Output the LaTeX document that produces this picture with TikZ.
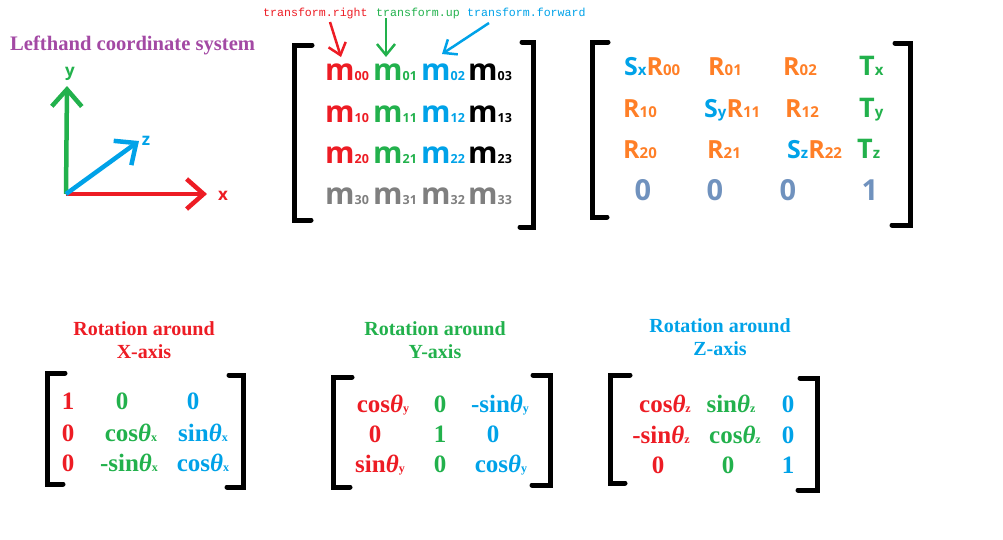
\documentclass[tikz,border=0pt]{standalone}
\usepackage{fontspec}
\setmainfont{Liberation Serif}
\newfontfamily\osans{Open Sans}
\newfontfamily\monof{Liberation Mono}
\usetikzlibrary{arrows.meta}
\definecolor{cred}{HTML}{ED1C24}
\definecolor{cgreen}{HTML}{22B14C}
\definecolor{cblue}{HTML}{00A2E8}
\definecolor{corange}{HTML}{FF7F27}
\definecolor{cpurple}{HTML}{A349A4}
\definecolor{cgray}{HTML}{7F7F7F}
\definecolor{csteel}{HTML}{7092BE}
\newcommand\fsz[1]{\fontsize{#1}{#1}\selectfont}
\newcommand\mcell[1]{{\fsz{30}m}{\fsz{12.5}#1}}
\newcommand\rcell[1]{{\fsz{25}R}{\fsz{15}#1}}
\newcommand\scell[1]{{\fsz{25}S}{\fsz{15}#1}}
\newcommand\tcell[1]{{\fsz{27}T}{\fsz{15}#1}}
\newcommand\trig[2]{#1\textit{θ}{\fsz{12}#2}}
\tikzset{
  mtx/.style={font=\osans\bfseries, inner sep=0pt, anchor=base west},
  zero/.style={font=\osans\bfseries\fsz{29}, inner sep=0pt, anchor=base, text=csteel},
  rot/.style={font=\bfseries\fsz{25}, inner sep=0pt, anchor=base},
  rottitle/.style={font=\bfseries\fsz{20}, inner sep=0pt, anchor=base},
  bracket/.style={line width=5pt, line cap=round, line join=miter, draw=black},
  axis/.style={line width=4.5pt, -{Straight Barb[length=17pt, width=30pt]}},
  pointer/.style={line width=2.5pt, -{Straight Barb[length=11pt, width=18pt]}},
  axlabel/.style={font=\osans\bfseries\fsz{17}, inner sep=0pt},
  code/.style={font=\monof\fsz{11.6}, inner sep=0pt, anchor=base west},
}
\begin{document}
\begin{tikzpicture}[x=1pt,y=-1pt]
\useasboundingbox (0,0) rectangle (1003,539);

% title
\node[font=\bfseries\fsz{20.6}, text=cpurple, inner sep=0pt, anchor=base west] (title) at (10,50) {Lefthand coordinate system};

% axes
\coordinate (O) at (66,194);
\coordinate (xe) at (207,194);
\coordinate (ye) at (67,86);
\coordinate (ze) at (139,141);
\draw[axis, cred] (O) -- (xe);
\draw[axis, cgreen] (O) -- (ye);
\draw[axis, cblue] (O) -- (ze);
\node[axlabel, text=cred] (lx) at (223,196) {x};
\node[axlabel, text=cgreen] (ly) at (70,74) {y};
\node[axlabel, text=cblue] (lz) at (146,141) {z};

% code labels
\node[code, text=cred] (cr) at (263,16) {transform.right};
\node[code, text=cgreen] (cu) at (376,16) {transform.up};
\node[code, text=cblue] (cf) at (467,16) {transform.forward};
\coordinate (ra) at (330,22); \coordinate (rb) at (341,57);
\coordinate (ua) at (386,18); \coordinate (ub) at (386,57);
\coordinate (fa) at (489,23); \coordinate (fb) at (442,54);
\draw[pointer, cred] (ra) -- (rb);
\draw[pointer, cgreen] (ua) -- (ub);
\draw[pointer, cblue] (fa) -- (fb);

% matrix m
\draw[bracket] (312,45) -- (294,45) -- (294,220) -- (311,220);
\draw[bracket] (522,42) -- (533,42) -- (533,227) -- (520,227);
\node[mtx, text=cred]   (m00) at (325,80) {\mcell{00}};
\node[mtx, text=cgreen] (m01) at (373,80) {\mcell{01}};
\node[mtx, text=cblue]  (m02) at (421,80) {\mcell{02}};
\node[mtx, text=black]  (m03) at (468,80) {\mcell{03}};
\node[mtx, text=cred]   (m10) at (325,122) {\mcell{10}};
\node[mtx, text=cgreen] (m11) at (373,122) {\mcell{11}};
\node[mtx, text=cblue]  (m12) at (421,122) {\mcell{12}};
\node[mtx, text=black]  (m13) at (468,122) {\mcell{13}};
\node[mtx, text=cred]   (m20) at (325,163) {\mcell{20}};
\node[mtx, text=cgreen] (m21) at (373,163) {\mcell{21}};
\node[mtx, text=cblue]  (m22) at (421,163) {\mcell{22}};
\node[mtx, text=black]  (m23) at (468,163) {\mcell{23}};
\node[mtx, text=cgray]  (m30) at (325,204) {\mcell{30}};
\node[mtx, text=cgray]  (m31) at (373,204) {\mcell{31}};
\node[mtx, text=cgray]  (m32) at (421,204) {\mcell{32}};
\node[mtx, text=cgray]  (m33) at (468,204) {\mcell{33}};

% matrix TRS
\draw[bracket] (608,42) -- (592,42) -- (592,217) -- (607,217);
\draw[bracket] (895,43) -- (910,43) -- (910,225) -- (892,225);
\node[mtx] (a00) at (624,75) {\textcolor{cblue}{\scell{x}}\textcolor{corange}{\rcell{00}}};
\node[mtx, text=corange] (a01) at (708,75) {\rcell{01}};
\node[mtx, text=corange] (a02) at (783,75) {\rcell{02}};
\node[mtx, text=cgreen]  (a03) at (859,75) {\tcell{x}};
\node[mtx, text=corange] (a10) at (623,117) {\rcell{10}};
\node[mtx] (a11) at (704,117) {\textcolor{cblue}{\scell{y}}\textcolor{corange}{\rcell{11}}};
\node[mtx, text=corange] (a12) at (785,117) {\rcell{12}};
\node[mtx, text=cgreen]  (a13) at (859,117) {\tcell{y}};
\node[mtx, text=corange] (a20) at (623,158) {\rcell{20}};
\node[mtx, text=corange] (a21) at (707,158) {\rcell{21}};
\node[mtx] (a22) at (787,158) {\textcolor{cblue}{\scell{z}}\textcolor{corange}{\rcell{22}}};
\node[mtx, text=cgreen]  (a23) at (857,158) {\tcell{z}};
\node[zero] (a30) at (643,200) {0};
\node[zero] (a31) at (715,200) {0};
\node[zero] (a32) at (788,200) {0};
\node[zero] (a33) at (870,200) {1};

% rotation X
\node[rottitle, text=cred] (tx1) at (144,335) {Rotation around};
\node[rottitle, text=cred] (tx2) at (144,358) {X-axis};
\draw[bracket] (65,373) -- (47,373) -- (47,484) -- (63,484);
\draw[bracket] (229,375) -- (243,375) -- (243,487) -- (227,487);
\node[rot, text=cred]   (x00) at (68,409) {1};
\node[rot, text=cgreen] (x01) at (122,409) {0};
\node[rot, text=cblue]  (x02) at (193,409) {0};
\node[rot, text=cred]   (x10) at (68,441) {0};
\node[rot, text=cgreen] (x11) at (131,441) {\trig{cos}{x}};
\node[rot, text=cblue]  (x12) at (203,441) {\trig{sin}{x}};
\node[rot, text=cred]   (x20) at (68,471) {0};
\node[rot, text=cgreen] (x21) at (129,471) {\trig{-sin}{x}};
\node[rot, text=cblue]  (x22) at (203,471) {\trig{cos}{x}};

% rotation Y
\node[rottitle, text=cgreen] (ty1) at (435,335) {Rotation around};
\node[rottitle, text=cgreen] (ty2) at (435,358) {Y-axis};
\draw[bracket] (352,377) -- (333,377) -- (333,487) -- (350,487);
\draw[bracket] (533,375) -- (550,375) -- (550,485) -- (532,485);
\node[rot, text=cred]   (y00) at (383,412) {\trig{cos}{y}};
\node[rot, text=cgreen] (y01) at (440,412) {0};
\node[rot, text=cblue]  (y02) at (500,412) {\trig{-sin}{y}};
\node[rot, text=cred]   (y10) at (375,442) {0};
\node[rot, text=cgreen] (y11) at (440,442) {1};
\node[rot, text=cblue]  (y12) at (493,442) {0};
\node[rot, text=cred]   (y20) at (380,472) {\trig{sin}{y}};
\node[rot, text=cgreen] (y21) at (440,472) {0};
\node[rot, text=cblue]  (y22) at (501,472) {\trig{cos}{y}};

% rotation Z
\node[rottitle, text=cblue] (tz1) at (720,332) {Rotation around};
\node[rottitle, text=cblue] (tz2) at (720,355) {Z-axis};
\draw[bracket] (630,375) -- (610,375) -- (610,483) -- (625,483);
\draw[bracket] (800,378) -- (817,378) -- (817,490) -- (798,490);
\node[rot, text=cred]   (z00) at (665,412) {\trig{cos}{z}};
\node[rot, text=cgreen] (z01) at (731,412) {\trig{sin}{z}};
\node[rot, text=cblue]  (z02) at (788,412) {0};
\node[rot, text=cred]   (z10) at (661,443) {\trig{-sin}{z}};
\node[rot, text=cgreen] (z11) at (735,443) {\trig{cos}{z}};
\node[rot, text=cblue]  (z12) at (788,443) {0};
\node[rot, text=cred]   (z20) at (658,473) {0};
\node[rot, text=cgreen] (z21) at (728,473) {0};
\node[rot, text=cblue]  (z22) at (788,473) {1};
\end{tikzpicture}
\end{document}
